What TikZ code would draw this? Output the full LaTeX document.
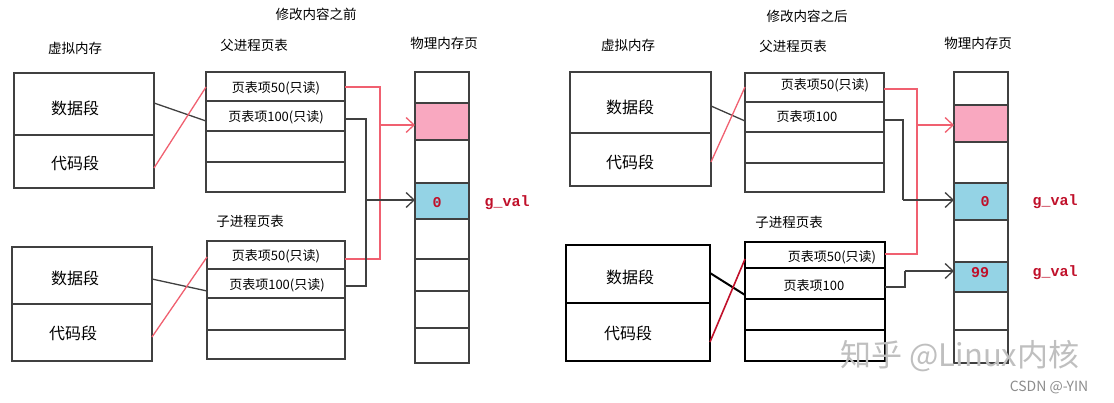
\documentclass[tikz,border=0pt]{standalone}
\usepackage{fontspec}
\setmainfont{Noto Sans CJK SC}
\newfontfamily\monob{Liberation Mono}
\usetikzlibrary{arrows.meta}
\definecolor{pinkc}{HTML}{F9A8C0}
\definecolor{bluec}{HTML}{94D3E5}
\definecolor{redl}{HTML}{F06070}
\definecolor{gred}{HTML}{C0102A}
\tikzset{
  box/.style={draw=black!75,line width=1.3pt},
  tbox/.style={draw=black,line width=2.2pt},
  lbl/.style={font=\fontsize{13.5}{15}\selectfont,inner sep=0pt},
  seg/.style={font=\fontsize{16}{18}\selectfont,inner sep=0pt},
  ent/.style={font=\fontsize{13}{15}\selectfont,inner sep=0pt},
  gv/.style={font=\monob\bfseries\fontsize{15}{17}\selectfont,text=gred,inner sep=0pt},
  rl/.style={draw=redl,line width=1.3pt},
  bl/.style={draw=black!75,line width=1.3pt},
  arr/.style={-{Straight Barb[length=8pt,width=15pt,line width=1.3pt]}},
}
\begin{document}
\begin{tikzpicture}[x=1pt,y=-1pt]
\useasboundingbox (0,0) rectangle (1114,403);
% ===== LEFT =====
\node[lbl] (t1) at (316,14) {修改内容之前};
\node[lbl] (vl1) at (75,48) {虚拟内存};
\node[lbl] (pl1) at (254,45) {父进程页表};
\node[lbl] (ml1) at (444,43) {物理内存页};
\node[lbl] (cl1) at (250,221) {子进程页表};
\draw[box] (14,73) rectangle (154,188); \draw[box] (14,135) -- (154,135);
\node[seg] (d1) at (75,108) {数据段}; \node[seg] (c1) at (75,163) {代码段};
\draw[box] (12,247) rectangle (152,361); \draw[box] (12,304) -- (152,304);
\node[seg] (d2) at (75,278) {数据段}; \node[seg] (c2) at (73,333) {代码段};
\draw[box] (206,72) rectangle (345,192);
\foreach \y in {101,131,162} \draw[box] (206,\y) -- (345,\y);
\node[ent] (p1a) at (276,88) {页表项50(只读)};
\node[ent] (p1b) at (276,117) {页表项100(只读)};
\draw[box] (207,241) rectangle (345,359);
\foreach \y in {269,298,330} \draw[box] (207,\y) -- (345,\y);
\node[ent] (c1a) at (276,256) {页表项50(只读)};
\node[ent] (c1b) at (277,285) {页表项100(只读)};
\fill[pinkc] (415,103) rectangle (469,140);
\fill[bluec] (415,183) rectangle (469,219);
\draw[box] (415,72) rectangle (469,363);
\foreach \y in {103,140,183,219,259,291,328} \draw[box] (415,\y) -- (469,\y);
\node[gv] (z1) at (437,203) {0};
\node[gv] (g1) at (507,203) {g\_val};
\coordinate (pk1) at (415,125); \coordinate (bu1) at (415,200);
\draw[bl] (154,103) -- (206,121);
\draw[rl] (154,168) -- (206,87);
\draw[bl] (152,279) -- (207,291);
\draw[rl] (152,337) -- (207,257);
\draw[rl] (345,87) -- (380,87) -- (380,259) -- (345,259);
\draw[rl,arr] (380,125) -- (pk1);
\draw[bl] (345,119) -- (366,119) -- (366,286) -- (345,286);
\draw[bl,arr] (366,200) -- (bu1);
% ===== RIGHT =====
\node[lbl] (t2) at (807,16) {修改内容之后};
\node[lbl] (vl2) at (628,45) {虚拟内存};
\node[lbl] (pl2) at (793,46) {父进程页表};
\node[lbl] (ml2) at (978,43) {物理内存页};
\node[lbl] (cl2) at (789,222) {子进程页表};
\draw[box] (570,72) rectangle (711,186); \draw[box] (570,133) -- (711,133);
\node[seg] (d3) at (630,107) {数据段}; \node[seg] (c3) at (630,162) {代码段};
\draw[tbox] (566,245) rectangle (710,361); \draw[tbox] (566,303) -- (710,303);
\node[seg] (d4) at (630,277) {数据段}; \node[seg] (c4) at (628,333) {代码段};
\draw[box] (745,73) rectangle (884,192);
\foreach \y in {102,132,163} \draw[box] (745,\y) -- (884,\y);
\node[ent] (p2a) at (825,85) {页表项50(只读)};
\node[ent] (p2b) at (807,117) {页表项100};
\draw[tbox] (745,242) rectangle (885,361);
\foreach \y in {268,299,330} \draw[tbox] (745,\y) -- (885,\y);
\node[ent] (c2a) at (832,257) {页表项50(只读)};
\node[ent] (c2b) at (814,286) {页表项100};
\fill[pinkc] (954,105) rectangle (1008,142);
\fill[bluec] (954,183) rectangle (1008,220);
\fill[bluec] (954,262) rectangle (1008,292);
\draw[box] (954,72) rectangle (1008,363);
\foreach \y in {105,142,183,220,262,292,330} \draw[box] (954,\y) -- (1008,\y);
\node[gv] (z2) at (985,202) {0};
\node[gv] (g2) at (1055,202) {g\_val};
\node[gv] (n99) at (980,273) {99};
\node[gv] (g3) at (1055,273) {g\_val};
\coordinate (pk2) at (954,125); \coordinate (bu2) at (954,200); \coordinate (bu3) at (954,271);
\draw[bl] (711,106) -- (745,121);
\draw[rl] (711,162) -- (745,87);
\draw[draw=black,line width=2pt] (710,273) -- (745,295);
\draw[draw=gred,line width=1.6pt] (710,342) -- (745,259);
\draw[rl] (884,89) -- (917,89) -- (917,254) -- (885,254);
\draw[rl,arr] (917,125) -- (pk2);
\draw[bl] (884,120) -- (903,120) -- (903,200);
\draw[bl,arr] (903,200) -- (bu2);
\draw[bl] (885,287) -- (905,287) -- (905,271);
\draw[bl,arr] (905,271) -- (bu3);
\node[font=\fontsize{31}{33}\selectfont,text=black!25,inner sep=0pt] (wm) at (960,356) {知乎 @Linux内核};
\node[font=\fontsize{14}{16}\selectfont,text=black!45,inner sep=0pt] (wm2) at (1049,387) {CSDN @-YIN};
\end{tikzpicture}
\end{document}
